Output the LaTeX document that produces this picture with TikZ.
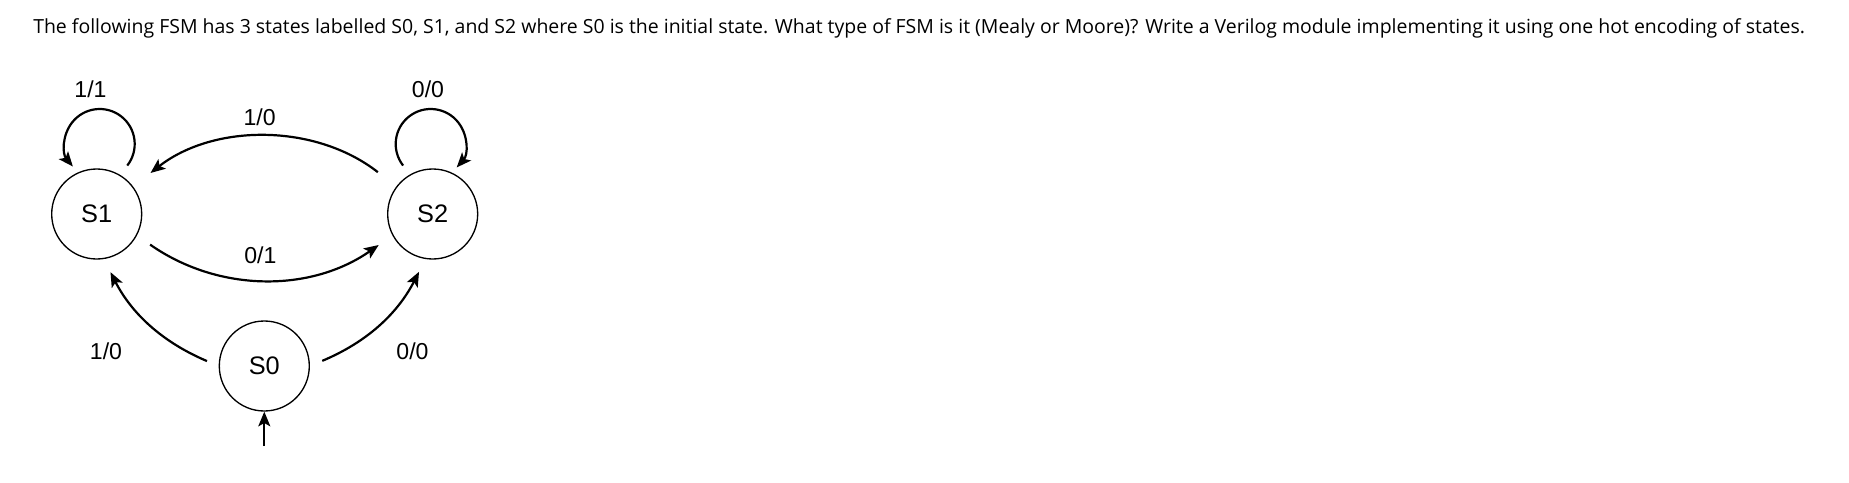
\documentclass[tikz,border=0pt]{standalone}
\usepackage{fontspec}
\setmainfont{Liberation Sans}
\newfontfamily\questionfont{Open Sans}
\usetikzlibrary{arrows.meta,calc}

\tikzset{
    state/.style={circle,draw,line width=1pt,minimum size=67.5pt,inner sep=0pt,font=\fontsize{19}{21}\selectfont},
    trans/.style={line width=1.65pt,-{Stealth[length=11pt,width=9pt,inset=2.5pt]}},
    edgelabel/.style={inner sep=0pt,font=\fontsize{17.3}{19}\selectfont},
}

\begin{document}
\begin{tikzpicture}[x=0.75pt,y=0.75pt,yscale=-1,xscale=1]
        \useasboundingbox (0,0) rectangle (1849,482);
        % Question
        \node[anchor=base west,inner sep=0pt,font=\questionfont\fontsize{14.6}{17}\selectfont] (question) at (33,33.3) {The following FSM has 3 states labelled S0, S1, and S2 where S0 is the initial state. What type of FSM is it (Mealy or Moore)? Write a Verilog module implementing it using one hot encoding of states.};

        % States
        \node[state] (S1) at (96.7,214) {S1};
        \node[state] (S2) at (432.7,214) {S2};
        \node[state] (S0) at (264.3,366) {S0};
        \coordinate (init) at (264.3,446);

        % Self loops
        \draw[trans] ($(S1.center)+(3,-70)+(38:35)$) arc[start angle=38,end angle=-220,radius=35];
        \draw[trans] ($(S2.center)+(-2,-70)+(-218:35)$) arc[start angle=-218,end angle=42,radius=35];

        % Transitions (bends mirrored by yscale=-1)
        \draw[trans,shorten <=17.5pt,shorten >=16.5pt] (S2.143) to[bend left=38] (S1.37);
        \draw[trans,shorten <=12pt,shorten >=12.5pt] (S1.-28) to[bend left=35] (S2.208);
        \draw[trans,shorten <=9.5pt,shorten >=11pt] (S0.180) to[bend right=20] (S1.279);
        \draw[trans,shorten <=10pt,shorten >=10.7pt] (S0.0) to[bend left=20] (S2.261);
        \draw[trans] (init) -- (S0);

        % Labels
        \node[edgelabel] (l11) at (90.5,89.5) {1/1};
        \node[edgelabel] (l00a) at (428,89.5) {0/0};
        \node[edgelabel] (l10a) at (259.7,117.2) {1/0};
        \node[edgelabel] (l01) at (260.3,255.5) {0/1};
        \node[edgelabel] (l10b) at (106,351.7) {1/0};
        \node[edgelabel] (l00b) at (412.5,351.7) {0/0};
\end{tikzpicture}
\end{document}
